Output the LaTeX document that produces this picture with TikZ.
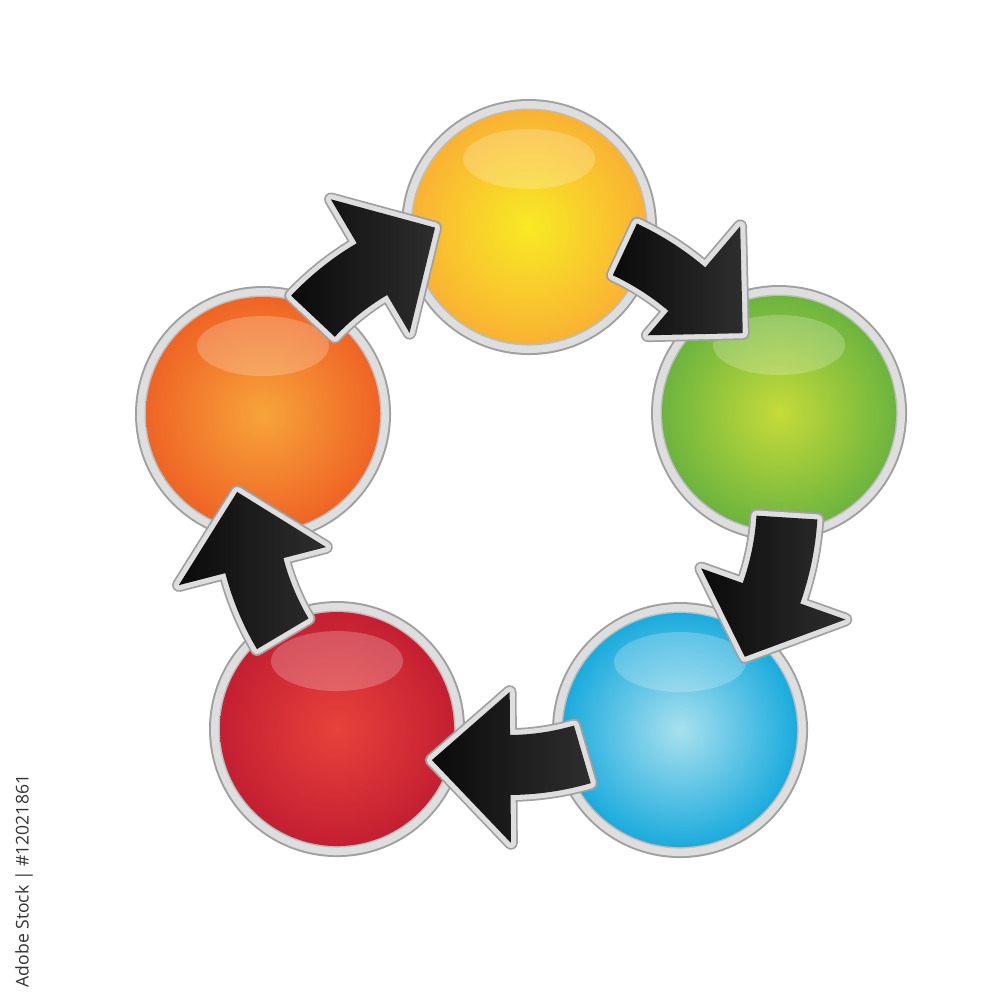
\documentclass[tikz,border=0pt]{standalone}
\usepackage{fontspec}
\newfontfamily\stockfont{Open Sans}
\usetikzlibrary{calc}

\definecolor{yelC}{HTML}{F8EA24}
\definecolor{yelE}{HTML}{F9B233}
\definecolor{oraC}{HTML}{F7A43A}
\definecolor{oraE}{HTML}{EF6425}
\definecolor{grnC}{HTML}{C6DB3A}
\definecolor{grnE}{HTML}{6CB43E}
\definecolor{bluC}{HTML}{A9E0EE}
\definecolor{bluE}{HTML}{1BABDD}
\definecolor{redC}{HTML}{E8423B}
\definecolor{redE}{HTML}{C41F32}
\definecolor{rimdark}{HTML}{A0A0A0}
\definecolor{rimlight}{HTML}{DEDEDE}
\definecolor{rimedge}{HTML}{BDBDBD}
\definecolor{stockgray}{HTML}{333333}

\tikzset{
  arrowbody/.style={
    preaction={draw=rimdark, line width=3.9pt, line join=round},
    preaction={draw=rimlight, line width=2.9pt, line join=round},
    left color=black!96, right color=black!82},
  stocklabel/.style={rotate=90, text=stockgray, font=\stockfont\fontsize{5}{6}\selectfont}
}

% ball: name, centre colour, edge colour
\newcommand{\glossball}[3]{%
  \fill[rimdark] (#1) circle[radius=128];
  \fill[rimlight] (#1) circle[radius=126];
  \fill[rimedge] (#1) circle[radius=118.5];
  \shade[inner color=#2, outer color=#3] (#1) circle[radius=117];
  \fill[white, opacity=0.22] ($(#1)+(0,-68)$) ellipse[x radius=66, y radius=30];
}

% arrow round the hub: tail, barb, tip angle; shaft in/out; barb in/out; tip radius
\newcommand{\cyclearrow}[8]{%
  \shade[arrowbody] (#1:#4) -- (#1:#5)
    arc[start angle=#1, end angle=#2, radius=#5]
    -- (#2:#7) -- (#3:#8) -- (#2:#6) -- (#2:#4)
    arc[start angle=#2, end angle=#1, radius=#4] -- cycle;
}

\begin{document}
\begin{tikzpicture}[x=1mm, y=1mm, scale=0.1, yscale=-1]
  \fill[white] (0,0) rectangle (1000,994);
  \useasboundingbox (0,0) rectangle (1000,994);

  \coordinate (yel) at (529,227);
  \coordinate (grn) at (779,413);
  \coordinate (blu) at (680,730);
  \coordinate (red) at (337,729);
  \coordinate (ora) at (263,414);

  \glossball{yel}{yelC}{yelE}
  \glossball{grn}{grnC}{grnE}
  \glossball{blu}{bluC}{bluE}
  \glossball{red}{redC}{redE}
  \glossball{ora}{oraC}{oraE}

  \begin{scope}[shift={(508,500)}]
    \cyclearrow{-65}{-49.7}{-35.4}{248}{305}{216}{359}{288} % yel -> grn
    \cyclearrow{3.6}{19.5}{33.5}{249}{310}{205}{358}{284}   % grn -> blu
    \cyclearrow{73.7}{89.5}{106.3}{235}{295}{192}{343}{271} % blu -> red
    \cyclearrow{149.3}{165.5}{181.7}{232}{292}{188}{340}{271} % red -> ora
    \cyclearrow{223.3}{239.5}{255}{238}{298}{194}{349}{282} % ora -> yel
  \end{scope}

  \node[stocklabel] (stockid) at (24,881) {Adobe Stock | \#12021861};
\end{tikzpicture}
\end{document}
